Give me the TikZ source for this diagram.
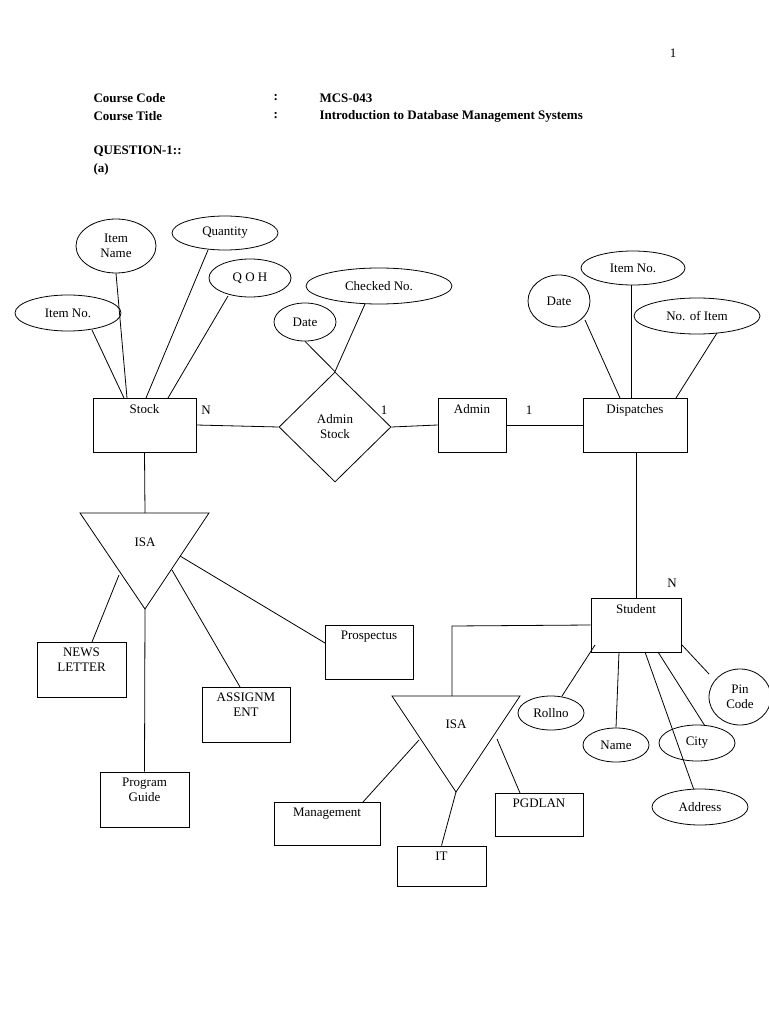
\documentclass[tikz,border=0pt]{standalone}
\usepackage{fontspec}
\setmainfont{Liberation Serif}
\usetikzlibrary{shapes.geometric}
\begin{document}
\begin{tikzpicture}[x=1pt,y=-1pt,
  every node/.style={font=\fontsize{13}{15}\selectfont},
  ent/.style={draw,line width=0.8pt,inner sep=0pt},
  att/.style={draw,ellipse,line width=0.8pt,inner sep=0pt,align=center},
  lnk/.style={line width=0.8pt},
  hd/.style={anchor=west,font=\fontsize{13}{15}\selectfont\bfseries}]
\useasboundingbox (0,0) rectangle (768,1024);
\node at (673,53) {1};
\node[hd] at (90,98) {Course Code};
\node[hd] at (270,98) {:};
\node[hd] at (316,98) {MCS-043};
\node[hd] at (90,116) {Course Title};
\node[hd] at (270,116) {:};
\node[hd] at (316,116) {Introduction to Database Management Systems};
\node[hd] at (90,151) {QUESTION-1::};
\node[hd] at (90,169) {(a)};
% rect entities: (name, x1,y1,x2,y2, text)
\newcommand{\ent}[6]{\node[ent,minimum width=#4-#2,minimum height=#5-#3] (#1) at ({(#2+#4)/2},{(#3+#5)/2}) {};
  \node[anchor=north,align=center,inner sep=0pt] (#1t) at ({(#2+#4)/2},#3+6) {#6};}
\ent{stock}{93}{398}{196}{452}{Stock}
\ent{admin}{438}{398}{506}{452}{Admin}
\ent{disp}{583}{398}{687}{452}{Dispatches}
\ent{stud}{591}{598}{681}{652}{Student}
\ent{mgmt}{274}{802}{380}{845}{Management}
\ent{it}{397}{846}{486}{886}{IT}
\ent{pg}{495}{793}{583}{836}{PGDLAN}
\ent{news}{37}{642}{126}{697}{NEWS\\LETTER}
\ent{prog}{100}{772}{189}{827}{Program\\Guide}
\ent{asg}{202}{687}{290}{742}{ASSIGNM\\ENT}
\ent{pros}{325}{625}{413}{679}{Prospectus}
% attributes
\newcommand{\att}[6]{\node[att,minimum width=2*#4,minimum height=2*#5] (#1) at (#2,#3) {#6};}
\att{iname}{116}{246}{40}{27}{Item\\Name}
\att{qty}{225}{233}{53}{17}{Quantity}
\att{qoh}{250}{278}{41}{19}{Q O H}
\att{ino}{68}{313}{53}{18}{Item No.}
\att{date1}{305}{322}{31}{19}{Date}
\att{chk}{379}{286}{73}{18}{Checked No.}
\att{date2}{559}{301}{31}{26}{Date}
\att{ino2}{633}{268}{52}{17}{Item No.}
\att{noi}{697}{316}{63}{18}{No. of Item}
\att{roll}{551}{713}{33}{17}{Rollno}
\att{name}{616}{745}{33}{17}{Name}
\att{city}{697}{743}{38}{18}{City}
\att{pin}{740}{697}{31}{28}{Pin\\Code}
\att{addr}{700}{807}{48}{18}{Address}
% relationship
\node[draw,line width=0.8pt,diamond,minimum width=112,minimum height=110,inner sep=0pt,align=center] (as) at (335,427) {Admin\\Stock};
% ISA triangles
\coordinate (i1a) at (80,513); \coordinate (i1b) at (209,513); \coordinate (i1c) at (145,609);
\draw[lnk] (i1a)--(i1b)--(i1c)--cycle;
\node (isa1) at (145,542) {ISA};
\coordinate (i2a) at (392,696); \coordinate (i2b) at (520,696); \coordinate (i2c) at (456,792);
\draw[lnk] (i2a)--(i2b)--(i2c)--cycle;
\node (isa2) at (456,724) {ISA};
% connectors
\draw[lnk] (ino) ++(24,17) -- (124,398);
\draw[lnk] (iname.south) -- (127,398);
\draw[lnk] (qty) ++(-17,17) -- (146,398);
\draw[lnk] (qoh) ++(-22,18) -- (168,398);
\draw[lnk] (date1.south) -- (as.north);
\draw[lnk] (chk) ++(-14,18) -- (as.north);
\draw[lnk] (stock.east) -- (as.west);
\draw[lnk] (as.east) -- (admin.west);
\draw[lnk] (admin.east) -- (disp.west);
\node at (206,410) {N};
\node at (384,410) {1};
\node at (529,410) {1};
\draw[lnk] (date2) ++(26,19) -- (620,398);
\draw[lnk] (631,285) -- (631,398);
\draw[lnk] (noi) ++(20,17) -- (676,398);
\draw[lnk] (636,452) -- (636,598);
\node at (672,583) {N};
\draw[lnk] (595,645) -- (roll) ++(15,-16);
\draw[lnk] (619,652) -- (name.north);
\draw[lnk] (645,652) -- (addr) ++(-19,-17);
\draw[lnk] (658,652) -- (705,726);
\draw[lnk] (682,645) -- (709,674);
\draw[lnk] (stud.west) -- (452,626) -- (452,696);
\draw[lnk] (419,740) -- (363,802);
\draw[lnk] (i2c) -- (it.north);
\draw[lnk] (497,739) -- (520,793);
\draw[lnk] (stock.south) -- (145,513);
\draw[lnk] (119,575) -- (92,642);
\draw[lnk] (i1c) -- (prog.north);
\draw[lnk] (172,570) -- (240,687);
\draw[lnk] (180,556) -- (325,643);
\end{tikzpicture}
\end{document}
